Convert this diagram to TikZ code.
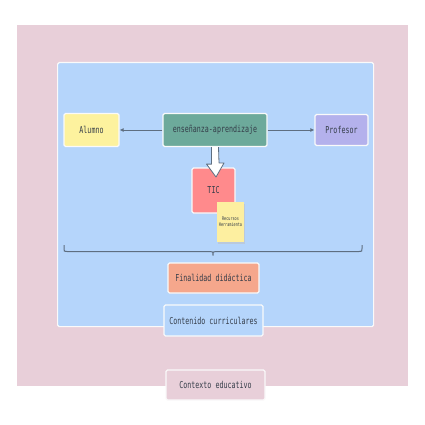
\documentclass[tikz,border=0pt]{standalone}
\usepackage{fontspec}
\newfontfamily\monof[FakeStretch=0.7]{DejaVu Sans Mono}
\usetikzlibrary{arrows.meta}
\definecolor{pinkbg}{HTML}{E8CFD9}
\definecolor{bluebg}{HTML}{B5D5FB}
\definecolor{yel}{HTML}{FDF29E}
\definecolor{teal}{HTML}{6DAA9B}
\definecolor{lav}{HTML}{B4B1EC}
\definecolor{ticred}{HTML}{FF8A8C}
\definecolor{sticky}{HTML}{FDEFA0}
\definecolor{salmon}{HTML}{F5A78C}
\definecolor{txt}{HTML}{343C48}
\definecolor{linec}{HTML}{5E6E80}
\tikzset{
  box/.style={draw=white!96!gray, line width=1.2pt, rounded corners=1.5pt, text=txt, font=\monof\fontsize{9.5}{10}\selectfont, inner sep=0pt},
  conn/.style={draw=linec, line width=1pt, -{Latex[length=4pt,width=4pt]}},
}
\begin{document}
\begin{tikzpicture}[x=1pt,y=-1pt]
\useasboundingbox (0,0) rectangle (425,425);
\fill[white] (0,0) rectangle (425,425);
% outer and inner areas
\node[fill=pinkbg, minimum width=391pt, minimum height=361pt, inner sep=0pt, anchor=north west] (outer) at (17,25) {};
\node[fill=bluebg, draw=white!96!gray, line width=1.2pt, rounded corners=1.5pt, minimum width=316pt, minimum height=264pt, inner sep=0pt, anchor=north west] (inner) at (57,62) {};
% nodes
\node[box, fill=yel, minimum width=55pt, minimum height=33pt] (alumno) at (91.5,130) {Alumno};
\node[box, fill=teal, minimum width=104pt, minimum height=33pt] (ens) at (215,130) {enseñanza-aprendizaje};
\node[box, fill=lav, minimum width=53pt, minimum height=31pt] (prof) at (341.5,130) {Profesor};
\node[box, fill=ticred, minimum width=43pt, minimum height=45pt] (tic) at (213.5,190.5) {TIC};
% block arrow
\coordinate (atop) at (ens.south);
\draw[linec, line width=0.8pt, fill=white, line join=round]
  ([xshift=-3.5pt]atop) -- ++(0,17) -- ++(-5,0) -- (216,177) -- (224,163) -- ++(-5,0) -- ([xshift=3.5pt]atop);
% sticky
\fill[black!25, opacity=0.5] (218,204) rectangle (245,243.5);
\node[fill=sticky, minimum width=27pt, minimum height=40pt, inner sep=0pt, text=txt, align=center, font=\monof\fontsize{5}{6}\selectfont] (rec) at (230.5,222) {Recursos\\Herramienta};
% connectors
\draw[conn] (ens.west) -- (alumno.east);
\draw[conn] (ens.east) -- (prof.west);
% brace
\coordinate (bl) at (64,245);
\coordinate (br) at (362,245);
\coordinate (bm) at (213,255.5);
\draw[linec, line width=1pt] (bl) -- (64,248.5) .. controls (64,251.5) .. (67,251.5) -- (210,251.5) .. controls (213,251.5) .. (bm)
  .. controls (213,251.5) .. (216,251.5) -- (359,251.5) .. controls (362,251.5) .. (362,248.5) -- (br);
% lower boxes
\node[box, fill=salmon, minimum width=91pt, minimum height=30pt] (fin) at (213.5,278) {Finalidad didáctica};
\node[box, fill=bluebg, minimum width=99pt, minimum height=31pt] (cont) at (213.5,320.5) {Contenido curriculares};
\node[box, fill=pinkbg, minimum width=99pt, minimum height=30pt] (ctx) at (215.5,385) {Contexto educativo};
\end{tikzpicture}
\end{document}
